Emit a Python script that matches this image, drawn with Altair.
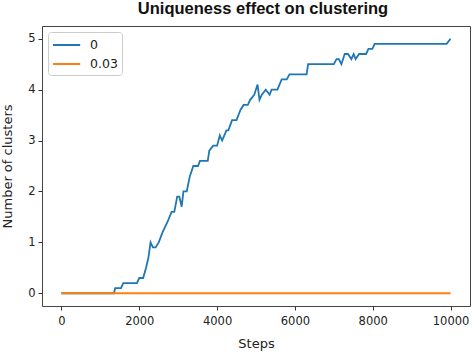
import altair as alt
import pandas as pd

title_text = "Uniqueness effect on clustering"
series_names = ["0", "0.03"]
series_colors = ["#1f77b4", "#ff7f0e"]

blue_steps = [0, 1350, 1380, 1530, 1590, 1940, 2000, 2100, 2175, 2235, 2290, 2350,
              2420, 2500, 2600, 2725, 2830, 2900, 2975, 3030, 3090, 3135, 3220, 3300,
              3390, 3510, 3560, 3760, 3800, 3900, 4000, 4070, 4130, 4240, 4290, 4385,
              4500, 4600, 4680, 4790, 4850, 4955, 5040, 5090, 5150, 5250, 5350, 5400,
              5550, 5660, 5790, 5860, 6300, 6340, 7000, 7070, 7130, 7195, 7280, 7365,
              7450, 7510, 7560, 7650, 7830, 7890, 7990, 8050, 9900, 10000]
blue_values = [0, 0, 0.1, 0.1, 0.2, 0.2, 0.3, 0.3, 0.5, 0.7, 1.0, 0.9,
               0.9, 1.0, 1.2, 1.4, 1.6, 1.6, 1.9, 1.9, 1.7, 2.0, 2.0, 2.3,
               2.5, 2.5, 2.6, 2.6, 2.8, 2.9, 2.9, 3.1, 3.0, 3.2, 3.2, 3.4,
               3.4, 3.6, 3.7, 3.7, 3.8, 3.9, 4.1, 3.8, 3.9, 4.0, 3.9, 4.0,
               4.0, 4.2, 4.2, 4.3, 4.3, 4.5, 4.5, 4.6, 4.6, 4.5, 4.7, 4.7,
               4.6, 4.7, 4.6, 4.7, 4.7, 4.8, 4.8, 4.9, 4.9, 5.0]
orange_steps = [0, 10000]
orange_values = [0, 0]

x_ticks = [0, 2000, 4000, 6000, 8000, 10000]
y_ticks = [0, 1, 2, 3, 4, 5]

rows = []
for i, (s, v) in enumerate(zip(blue_steps, blue_values)):
    rows.append({"Steps": s, "value": v, "series": series_names[0], "idx": i})
for i, (s, v) in enumerate(zip(orange_steps, orange_values)):
    rows.append({"Steps": s, "value": v, "series": series_names[1], "idx": i})
df = pd.DataFrame(rows)

chart = alt.Chart(df).mark_line(strokeWidth=1.8).encode(
    x=alt.X("Steps:Q", scale=alt.Scale(domain=[-500, 10500], nice=False, zero=False),
            axis=alt.Axis(values=x_ticks, title="Steps", format="d")),
    y=alt.Y("value:Q", scale=alt.Scale(domain=[-0.25, 5.25], nice=False, zero=False),
            axis=alt.Axis(values=y_ticks, title="Number of clusters", format="d")),
    color=alt.Color("series:N", scale=alt.Scale(domain=series_names, range=series_colors),
                    legend=alt.Legend(title=None, orient="top-left", offset=6,
                                      symbolType="M-1,0H2.4", symbolSize=256,
                                      symbolStrokeWidth=2, labelFontSize=12.5,
                                      labelFont="DejaVu Sans", labelColor="#222",
                                      labelOffset=20,
                                      fillColor="white", strokeColor="#cccccc",
                                      padding=4, cornerRadius=3, rowPadding=3)),
    order="idx:Q",
).properties(
    width=428, height=280,
    title=alt.TitleParams(title_text, font="Liberation Sans", fontSize=16.5,
                          fontWeight="bold", color="#111", dx=7, offset=9),
    padding={"left": 42, "top": 26, "right": 4, "bottom": 49},
    autosize="none",
).configure_view(
    stroke="#444", strokeWidth=1
).configure_axis(
    grid=False, domain=False, tickColor="#333", tickSize=4,
    labelFont="DejaVu Sans", labelFontSize=11.5, labelColor="#222",
    titleFont="DejaVu Sans", titleFontSize=13, titleFontWeight="normal", titleColor="#222",
    labelPadding=3,
).configure_axisX(
    titlePadding=11, labelPadding=5
).configure_axisY(
    titlePadding=13
)

chart.save("out.html", embed_options={"renderer": "svg", "actions": False})
